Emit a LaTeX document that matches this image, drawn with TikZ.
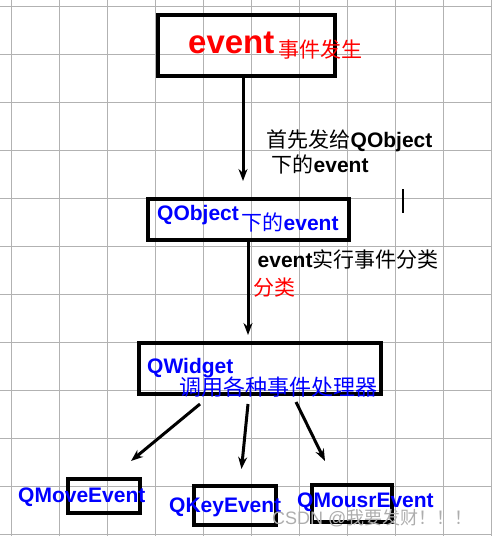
\documentclass[tikz,border=0pt]{standalone}
\usepackage{fontspec}
\setmainfont{Liberation Sans}
\newfontfamily\cjk{Noto Sans CJK SC}
\usetikzlibrary{arrows.meta}
\newcommand{\zh}[1]{{\cjk #1}}

\begin{document}
\begin{tikzpicture}[x=1pt, y=-1pt]
        \tikzstyle{box} = [rectangle, draw=black, line width=4pt, inner sep=0pt]
        \tikzstyle{singlearrow} = [line width=3pt, -{Stealth[length=12pt, width=9pt]}]
        \tikzstyle{gridline} = [draw=black!30, line width=1pt]
        \tikzstyle{lbl} = [inner sep=0pt, anchor=base west, font=\fontsize{21}{24}\selectfont]
        \tikzstyle{zhlbl} = [inner sep=0pt, anchor=west, font=\fontsize{21}{24}\selectfont]

        \useasboundingbox (0,0) rectangle (491,536);
        \foreach \gx in {11.5, 59.5, ..., 491.5} \draw[gridline] (\gx,0) -- (\gx,536);
        \foreach \gy in {6, 54, ..., 534} \draw[gridline] (0,\gy) -- (491,\gy);

        % boxes
        \node (evt) [box, minimum width=177.6pt, minimum height=60.4pt] at (246.5,45.5) {};
        \node (qobj) [box, minimum width=201pt, minimum height=41pt] at (248.5,219.5) {};
        \node (qwid) [box, minimum width=242pt, minimum height=51pt] at (260,368.5) {};
        \node (qmove) [box, minimum width=72pt, minimum height=34pt] at (104,496) {};
        \node (qkey) [box, minimum width=82pt, minimum height=39pt] at (235,505.5) {};
        \node (qmouse) [box, minimum width=80pt, minimum height=37pt] at (352,503.5) {};

        % texts
        \node (evtname) [lbl, red, font=\fontsize{33}{36}\selectfont\bfseries] at (188,53) {event};
        \node (evtzh) [zhlbl, red] at (278,50) {\zh{事件发生}};
        \node (send1) [lbl] at (266.5,147) {\zh{首先发给}\textbf{QObject}};
        \node (send2) [lbl] at (271.5,172) {\zh{下的}\textbf{event}};
        \node (qobjname) [lbl, blue] at (157,220) {\textbf{QObject}};
        \node (qobjzh) [lbl, blue] at (241.5,230) {\zh{下的}\textbf{event}};
        \node (sort1) [lbl] at (257.5,267) {\textbf{event}\zh{实行事件分类}};
        \node (sort2) [zhlbl, red] at (253,288) {\zh{分类}};
        \node (qwidname) [lbl, blue] at (147,373) {\textbf{QWidget}};
        \node (qwidzh) [zhlbl, blue, font=\fontsize{22}{24}\selectfont] at (179,387.5) {\zh{调用各种事件处理器}};
        \node (qmovename) [lbl, blue] at (18,502) {\textbf{QMoveEvent}};
        \node (qkeyname) [lbl, blue] at (169,512) {\textbf{QKeyEvent}};
        \node (qmousename) [lbl, blue] at (297,507) {\textbf{QMousrEvent}};
        \node (mark) [zhlbl, black!32, font=\fontsize{18}{20}\selectfont] at (272,518) {CSDN @\zh{我要发财！！！}};
        \draw[line width=1.5pt] (403,189) -- (403,213);

        % arrows
        \draw[singlearrow] ([xshift=-3.5pt]evt.south) -- ([xshift=-5.5pt, yshift=16pt]qobj.north);
        \draw[singlearrow] ([xshift=-0.5pt]qobj.south) -- ([xshift=-12pt, yshift=6pt]qwid.north);
        \draw[singlearrow] ([xshift=-60pt, yshift=-8pt]qwid.south) -- ([xshift=27pt, yshift=16pt]qmove.north);
        \draw[singlearrow] ([xshift=-12pt, yshift=-8pt]qwid.south) -- ([xshift=6.5pt, yshift=15pt]qkey.north);
        \draw[singlearrow] ([xshift=36pt, yshift=-6pt]qwid.south) -- ([xshift=-27pt, yshift=22pt]qmouse.north);

\end{tikzpicture}
\end{document}
